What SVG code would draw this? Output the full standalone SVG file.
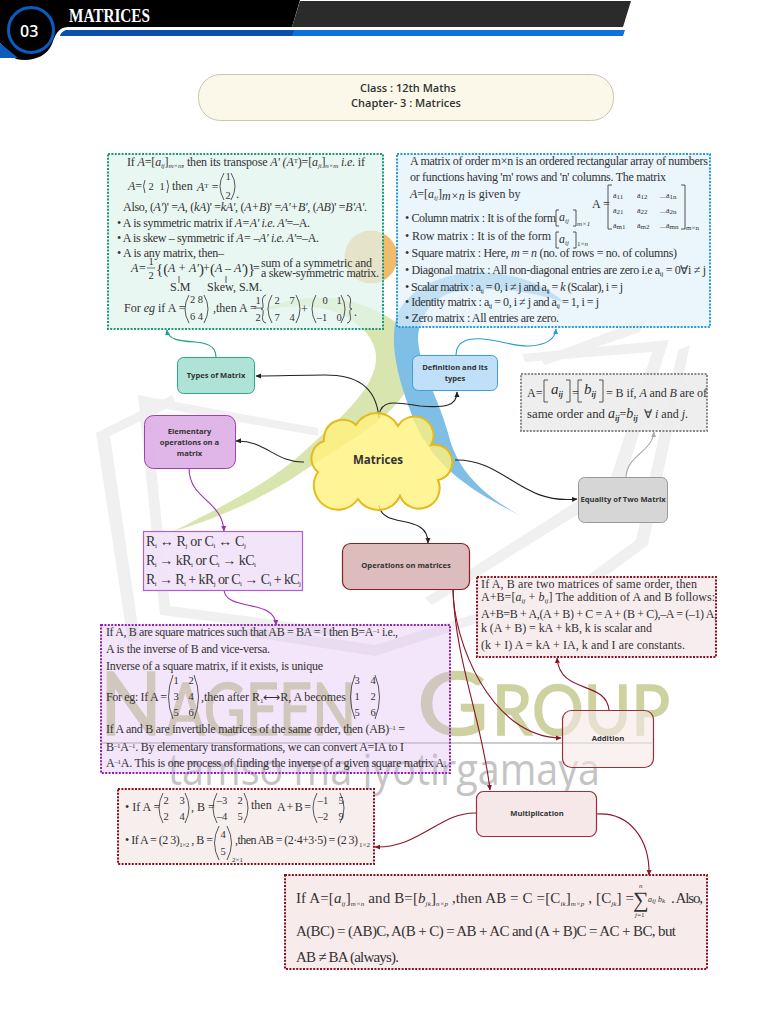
<svg xmlns="http://www.w3.org/2000/svg" width="768" height="1024" viewBox="0 0 768 1024">
<defs>
<marker id="ak" markerWidth="6" markerHeight="6" refX="5" refY="3" orient="auto" markerUnits="userSpaceOnUse"><path d="M0,0.5 L5.5,3 L0,5.5z" fill="#222"/></marker>
<marker id="ag" markerWidth="6" markerHeight="6" refX="5" refY="3" orient="auto" markerUnits="userSpaceOnUse"><path d="M0,0.5 L5.5,3 L0,5.5z" fill="#aaa"/></marker>
<marker id="at" markerWidth="6" markerHeight="6" refX="5" refY="3" orient="auto" markerUnits="userSpaceOnUse"><path d="M0,0.5 L5.5,3 L0,5.5z" fill="#1f9f86"/></marker>
<marker id="ab" markerWidth="6" markerHeight="6" refX="5" refY="3" orient="auto" markerUnits="userSpaceOnUse"><path d="M0,0.5 L5.5,3 L0,5.5z" fill="#2a9ad8"/></marker>
<marker id="ap" markerWidth="6" markerHeight="6" refX="5" refY="3" orient="auto" markerUnits="userSpaceOnUse"><path d="M0,0.5 L5.5,3 L0,5.5z" fill="#9a30b0"/></marker>
<marker id="ar" markerWidth="6" markerHeight="6" refX="5" refY="3" orient="auto" markerUnits="userSpaceOnUse"><path d="M0,0.5 L5.5,3 L0,5.5z" fill="#8a1525"/></marker>
</defs>
<style>
text{font-family:"Liberation Serif",serif;fill:#333;font-size:12px}
.n{font-family:"Open Sans","Noto Sans",sans-serif;font-weight:700;font-size:7.6px;fill:#333;text-anchor:middle}
.i{font-style:italic}
.s{font-size:7px}
.m{font-size:10.5px;text-anchor:middle}
.br{fill:none;stroke:#444;stroke-width:.9}
.c{fill:none;stroke-width:1.1}
.dot{stroke-width:2;stroke-dasharray:2 1.4}
.wm{font-family:Lato,"Liberation Sans",sans-serif;fill:#cdd2a0;stroke:#cdd2a0;stroke-width:1.6}
</style>
<rect width="768" height="1024" fill="#fff"/>
<g id="background">
<g fill="#f0f0f0">
<path d="M96,433 L172,395 L176,404 L110,436 L140,640 L128,642Z"/>
<path d="M138,395 L318,428 L318,436 L150,406 L170,606 L335,628 L335,636 L160,615Z"/>
<path d="M669,340 L622,487 L432,605 L425,598 L610,480 L652,352 L525,362 L522,354Z"/>
<path d="M622,327 L645,320 L640,332 L545,365 L540,358Z"/>
<path d="M240,625 L375,645 L520,600 L525,608 L375,656 L240,635Z"/>
<path d="M690,345 L648,545 L560,610 L552,602 L636,540 L678,350Z"/>
</g>
<path d="M258,313 C280,298 330,290 370,308 C405,322 422,345 412,378 C400,415 350,440 305,470 C270,495 215,520 174,531 C225,505 270,482 300,455 C345,415 378,385 376,355 C374,330 345,312 320,308 C300,304 275,307 258,313Z" fill="#d9e5ae"/>
<path d="M525,518 C480,495 430,470 410,410 C395,370 390,340 397,315 C410,285 450,270 490,273 C520,275 545,285 565,303 C530,290 480,285 450,293 C430,300 418,320 418,340 C420,370 440,400 450,440 C460,475 490,500 525,518Z" fill="#7fbfe6"/>
<circle cx="371" cy="257" r="26.500" fill="#f0bc6c"/>
<text class="wm" x="100" y="735" style="font-size:88px" textLength="62" lengthAdjust="spacingAndGlyphs">N</text>
<text class="wm" x="166" y="735" style="font-size:72px" textLength="190" lengthAdjust="spacingAndGlyphs">AGEEN</text>
<text class="wm" x="417" y="735" style="font-size:88px" textLength="72" lengthAdjust="spacingAndGlyphs">G</text>
<text class="wm" x="492" y="735" style="font-size:70px" textLength="178" lengthAdjust="spacingAndGlyphs">ROUP</text>
<path d="M101,743 H652" stroke="#bdbdbd" stroke-width="1.4"/>
<text x="168" y="785" textLength="432" lengthAdjust="spacingAndGlyphs" style="fill:#c4c4c4;font-size:43px;font-family:'Open Sans',sans-serif;font-weight:400">tamso ma jyotirgamaya</text>
</g>
<g id="header">
<path d="M0,0 H300 L292,27 H68 C58,27 55,36 52,44 C46,58 30,62 16,59 L0,43Z" fill="#000"/>
<path d="M300,1 H631 L623,27 H292Z" fill="#2b2b2b"/>
<path d="M66,30 H625 L623,36 H60 Q61,32 66,30Z" fill="#0e72dc"/>
<path d="M66,30 H294 L292,36 H60 Q61,32 66,30Z" fill="#0a4fa8"/>
<path d="M0,43 L18,58 H0Z" fill="#0a5cc0"/>
<circle cx="31" cy="30" r="22.500" fill="#000" stroke="#0b5cc0" stroke-width="3"/>
<text x="20" y="37" style="fill:#fff;font-family:'Open Sans',sans-serif;font-size:16px;font-weight:600">03</text>
<text x="69" y="22" textLength="81" lengthAdjust="spacingAndGlyphs" style="fill:#fff;font-weight:700;font-size:19px">MATRICES</text>
</g>
<g id="connectors">
<path class="c" stroke="#222" marker-end="url(#ak)" d="M379,418 C376,385 355,375 325,375 C300,375 280,376 256,376"/>
<path class="c" stroke="#222" marker-end="url(#ak)" d="M379,415 C382,398 398,403 420,406 C445,408 457,406 457,392"/>
<path class="c" stroke="#222" marker-end="url(#ak)" d="M304,462 C276,463 265,440 236,441"/>
<path class="c" stroke="#222" marker-end="url(#ak)" d="M455,460 C505,459 520,505 577,499"/>
<path class="c" stroke="#222" marker-end="url(#ak)" d="M379,505 C382,530 428,512 428,543"/>
<path class="c" stroke="#1f9f86" marker-end="url(#at)" d="M216,357 C216,345 205,343 195,342 C180,341 168,340 167,330"/>
<path class="c" stroke="#2a9ad8" marker-end="url(#ab)" d="M456,355 C456,340 470,338 483,339 C500,340 515,347 530,346 C545,345 555,340 556,329"/>
<path class="c" stroke="#aaa" marker-end="url(#ag)" d="M626,477 C627,455 652,452 654,432"/>
<path class="c" stroke="#9a30b0" marker-end="url(#ap)" d="M189,469 C190,500 222,500 224,531"/>
<path class="c" stroke="#9a30b0" marker-end="url(#ap)" d="M224,590 C226,612 275,598 276,625"/>
<path class="c" stroke="#8a1525" stroke-width="1.6" marker-end="url(#ar)" d="M453,589 C453,640 490,737 561,738"/>
<path class="c" stroke="#8a1525" stroke-width="1.6" marker-end="url(#ar)" d="M453,589 C455,660 482,720 490,790"/>
<path class="c" stroke="#8a1525" marker-end="url(#ar)" d="M609,710 C606,680 560,695 557,658"/>
<path class="c" stroke="#8a1525" marker-end="url(#ar)" d="M476,813 C440,812 420,848 375,847"/>
<path class="c" stroke="#8a1525" marker-end="url(#ar)" d="M597,814 C630,812 650,840 649,875"/>
</g>
<g id="title-pill">
<rect x="198.500" y="74.500" width="415" height="46" rx="22" fill="#fbf8e9" stroke="#c9c6ae"/>
<text class="n" x="408" y="92" style="font-size:11px;font-weight:600">Class : 12th Maths</text>
<text class="n" x="406" y="107" style="font-size:11px;font-weight:600">Chapter- 3 : Matrices</text>
</g>
<g id="transpose-box">
<rect x="108" y="154" width="275" height="175" fill="#e0f4ee" fill-opacity=".72" stroke="#1a9a7a" class="dot"/>
<text x="127" y="166" textLength="238">If <tspan class="i">A</tspan>=[<tspan class="i">a</tspan><tspan class="i s" dy="2">ij</tspan><tspan dy="-2">]</tspan><tspan class="i s" dy="2">m×n</tspan><tspan dy="-2">, then its transpose </tspan><tspan class="i">A' (A</tspan><tspan class="s" dy="-3">T</tspan><tspan dy="3">)=[</tspan><tspan class="i">a</tspan><tspan class="i s" dy="2">ji</tspan><tspan dy="-2">]</tspan><tspan class="i s" dy="2">n×m</tspan><tspan class="i" dy="-2"> i.e.</tspan> if</text>
<text x="128" y="190"><tspan class="i">A</tspan>=</text>
<path class="br" d="M145,180 Q142,186 145,193 M167,180 Q170,186 167,193"/>
<text class="m" x="151" y="190">2</text><text class="m" x="162" y="190">1</text>
<text x="172" y="190">then</text>
<text x="197" y="191"><tspan class="i">A</tspan><tspan class="s" dy="-3">T</tspan><tspan dy="3"> =</tspan></text>
<path class="br" d="M224,173 Q216,186 224,200 M231,173 Q239,186 231,200"/>
<text class="m" x="228" y="180">1</text><text class="m" x="228" y="199">2</text><text x="236" y="198">.</text>
<text x="123" y="211" textLength="244">Also, (<tspan class="i">A'</tspan>)' =<tspan class="i">A</tspan>, (<tspan class="i">kA</tspan>)' =<tspan class="i">kA'</tspan>, (<tspan class="i">A+B</tspan>)' =<tspan class="i">A'+B'</tspan>, (<tspan class="i">AB</tspan>)' =<tspan class="i">B'A'</tspan>.</text>
<text x="117" y="227" textLength="193">• A is symmetric matrix if <tspan class="i">A=A' i.e. A'</tspan>=–A.</text>
<text x="117" y="242" textLength="202">• A is skew – symmetric if <tspan class="i">A= –A' i.e. A'</tspan>=–A.</text>
<text x="117" y="257" textLength="107">• A is any matrix, then–</text>
<text x="131" y="272" class="i">A</text><text x="139" y="272">=</text>
<text class="m" x="151" y="265">1</text><path d="M147,268 H155" stroke="#444" stroke-width=".7"/><text class="m" x="151" y="279">2</text>
<text x="156" y="274" style="font-size:15px">{(</text><text x="168" y="272" class="i">A + A'</text><text x="199" y="274" style="font-size:15px">)</text><text x="203" y="272">+</text><text x="210" y="274" style="font-size:15px">(</text><text x="215" y="272" class="i">A – A'</text><text x="243" y="274" style="font-size:15px">)}</text><text x="253" y="272">=</text>
<text x="261" y="267" textLength="111">sum of a symmetric and</text>
<text x="261" y="277" textLength="118">a skew-symmetric matrix.</text>
<path d="M179,276 V283 M226,276 V283" stroke="#333" stroke-width=".8"/>
<text x="170" y="291">S.M</text><text x="207" y="291">Skew, S.M.</text>
<text x="124" y="312">For <tspan class="i">eg</tspan> if  A =</text>
<path class="br" d="M189,295 Q181,309 189,323 M204,295 Q212,309 204,323"/>
<text class="m" x="196.500" y="303">2 8</text><text class="m" x="196.500" y="320">6 4</text>
<text x="213" y="312">,then  A =</text>
<text class="m" x="258" y="304">1</text><path d="M254,308 H262" stroke="#444" stroke-width=".7"/><text class="m" x="258" y="321">2</text>
<path class="br" d="M266,295 Q261,296 263,305 Q264,309 261,309 Q264,309 263,314 Q261,322 266,323 M347,295 Q352,296 350,305 Q349,309 352,309 Q349,309 350,314 Q352,322 347,323"/>
<path class="br" d="M272,295 Q264,309 272,323 M296,295 Q304,309 296,323 M316,295 Q308,309 316,323 M341,295 Q349,309 341,323"/>
<text class="m" x="277" y="304">2</text><text class="m" x="292" y="304">7</text><text class="m" x="277" y="321">7</text><text class="m" x="292" y="321">4</text>
<text x="301" y="313">+</text>
<text class="m" x="325" y="304">0</text><text class="m" x="339" y="304">1</text><text class="m" x="322" y="321">–1</text><text class="m" x="339" y="321">0</text>
<text x="354" y="316">.</text>
</g>
<g id="definition-box">
<rect x="397" y="154" width="313" height="173" fill="#e0f0fb" fill-opacity=".68" stroke="#2a9ad8" class="dot"/>
<text x="410" y="165" textLength="298">A matrix of order m×n is an ordered rectangular array of numbers</text>
<text x="410" y="181" textLength="256">or functions having 'm' rows and 'n' columns. The matrix</text>
<text x="410" y="198"><tspan class="i">A</tspan>=[<tspan class="i">a</tspan><tspan class="i s" dy="2">ij</tspan><tspan dy="-2">]</tspan><tspan class="i" dy="2">m×n</tspan><tspan dy="-2"> is given by</tspan></text>
<text x="592" y="208">A =</text>
<path class="br" d="M612,185 H608 V229 H612 M681,185 H685 V229 H681"/>
<g style="fill:#555"><text x="613" y="198" style="font-size:8px">a<tspan class="s" dy="1">11</tspan></text><text x="637" y="198" style="font-size:8px">a<tspan class="s" dy="1">12</tspan></text><text x="660" y="198" style="font-size:8px">...a<tspan class="s" dy="1">1n</tspan></text>
<text x="613" y="213" style="font-size:8px">a<tspan class="s" dy="1">21</tspan></text><text x="637" y="213" style="font-size:8px">a<tspan class="s" dy="1">22</tspan></text><text x="660" y="213" style="font-size:8px">...a<tspan class="s" dy="1">2n</tspan></text>
<text x="613" y="228" style="font-size:8px">a<tspan class="s" dy="1">m1</tspan></text><text x="637" y="228" style="font-size:8px">a<tspan class="s" dy="1">m2</tspan></text><text x="660" y="228" style="font-size:8px">...a<tspan class="s" dy="1">mn</tspan></text></g>
<text x="686" y="230" class="s">m×n</text>
<text x="405" y="222" textLength="151">• Column matrix : It is of the form</text>
<path class="br" d="M559,210 H556 V226 H559 M573,210 H576 V226 H573 M559,232 H556 V248 H559 M573,232 H576 V248 H573"/>
<text x="559" y="221" class="i">a<tspan class="s" dy="2">ij</tspan></text><text x="577" y="226" class="i s">m×1</text>
<text x="405" y="240" textLength="146">• Row matrix : It is of the form</text>
<text x="559" y="243" class="i">a<tspan class="s" dy="2">ij</tspan></text><text x="577" y="246" class="s">1×<tspan class="i">n</tspan></text>
<text x="405" y="257" textLength="272">• Square matrix : Here, <tspan class="i">m</tspan> = <tspan class="i">n</tspan> (no. of rows = no. of columns)</text>
<text x="405" y="274" textLength="301">• Diagonal matrix : All non-diagonal entries are zero i.e  a<tspan class="s" dy="2">ij</tspan><tspan dy="-2"> = 0∀i ≠ j</tspan></text>
<text x="405" y="291" textLength="218">• Scalar matrix : a<tspan class="s" dy="2">ij</tspan><tspan dy="-2"> = 0, i ≠ j and a</tspan><tspan class="s" dy="2">ij</tspan><tspan dy="-2"> = </tspan><tspan class="i">k</tspan> (Scalar), i = j</text>
<text x="405" y="306" textLength="194">• Identity matrix : a<tspan class="s" dy="2">ij</tspan><tspan dy="-2"> = 0, i ≠ j and a</tspan><tspan class="s" dy="2">ij</tspan><tspan dy="-2"> = 1, i = j</tspan></text>
<text x="405" y="322" textLength="154">• Zero matrix : All entries are zero.</text>
</g>
<g id="types-node"><rect x="177.500" y="357.500" width="77" height="36" rx="6" fill="#aee3d6" stroke="#2aa88c"/><text class="n" x="216" y="378">Types of Matrix</text></g>
<g id="definition-node"><rect x="412.500" y="355.500" width="85" height="35" rx="6" fill="#bfe0f8" stroke="#3a9ee0"/><text class="n" x="455" y="370">Definition and its</text><text class="n" x="455" y="381">types</text></g>
<g id="equality-box">
<rect x="521" y="374" width="186" height="57" fill="#ececec" fill-opacity=".9" stroke="#888" class="dot"/>
<text x="527" y="397">A=</text>
<path class="br" d="M548,380 H544 V402 H548 M566,380 H570 V402 H566 M582,380 H578 V402 H582 M599,380 H603 V402 H599"/>
<text x="551" y="394" class="i" style="font-size:15px">a<tspan dy="3" style="font-size:8px;font-weight:700">ij</tspan></text>
<text x="572" y="397">=</text>
<text x="584" y="394" class="i" style="font-size:15px">b<tspan dy="3" style="font-size:8px;font-weight:700">ij</tspan></text>
<text x="606" y="397" textLength="101">= B if, <tspan class="i">A</tspan> and <tspan class="i">B</tspan> are of</text>
<text x="527" y="418" textLength="78" lengthAdjust="spacingAndGlyphs">same order and</text>
<text x="608" y="418" class="i" style="font-size:14px">a<tspan dy="3" style="font-size:8px;font-weight:700">ij</tspan><tspan dy="-3" style="font-style:normal;font-size:12px">=</tspan>b<tspan dy="3" style="font-size:8px;font-weight:700">ij</tspan></text>
<text x="644" y="418">∀  <tspan class="i">i</tspan> and <tspan class="i">j</tspan>.</text>
</g>
<g id="equality-node"><rect x="578.500" y="477.500" width="89" height="45" rx="6" fill="#d6d6d6" stroke="#999"/><text class="n" x="623" y="502">Equality of Two Matrix</text></g>
<g id="elementary-node"><rect x="144.500" y="415.500" width="91" height="53" rx="9" fill="#dcaee4" fill-opacity=".9" stroke="#a040b0"/><text class="n" x="189.500" y="434">Elementary</text><text class="n" x="189.500" y="445">operations on a</text><text class="n" x="189.500" y="456">matrix</text></g>
<g id="matrices-node">
<path d="M324,441 A19,19 0 0 1 356,425 A24,24 0 0 1 398,426 A19,19 0 0 1 431,445 A16,16 0 0 1 438,480 A20,20 0 0 1 400,496 A24,24 0 0 1 358,499 A20,20 0 0 1 318,472 A18,18 0 0 1 324,441Z" fill="#fff27c" fill-opacity=".8" stroke="#e6b91e" stroke-width="2"/>
<text class="n" x="378" y="464" style="font-size:11.5px">Matrices</text>
</g>
<g id="row-ops-box">
<rect x="143.500" y="531.500" width="159" height="59" fill="#f2e2f8" fill-opacity=".9" stroke="#b060d0" stroke-width="1.200"/>
<text x="146" y="546" textLength="100" style="font-size:14px">R<tspan class="s" dy="2">i</tspan><tspan dy="-2"> ↔ R</tspan><tspan class="s" dy="2">j</tspan><tspan dy="-2"> or C</tspan><tspan class="s" dy="2">i</tspan><tspan dy="-2"> ↔ C</tspan><tspan class="s" dy="2">j</tspan></text>
<text x="146" y="565" textLength="110" style="font-size:14px">R<tspan class="s" dy="2">i</tspan><tspan dy="-2"> → kR</tspan><tspan class="s" dy="2">i</tspan><tspan dy="-2"> or C</tspan><tspan class="s" dy="2">i</tspan><tspan dy="-2"> → kC</tspan><tspan class="s" dy="2">i</tspan></text>
<text x="146" y="584" textLength="155" style="font-size:14px">R<tspan class="s" dy="2">i</tspan><tspan dy="-2"> → R</tspan><tspan class="s" dy="2">i</tspan><tspan dy="-2"> + kR</tspan><tspan class="s" dy="2">j</tspan><tspan dy="-2"> or C</tspan><tspan class="s" dy="2">i</tspan><tspan dy="-2"> → C</tspan><tspan class="s" dy="2">i</tspan><tspan dy="-2"> + kC</tspan><tspan class="s" dy="2">j</tspan></text>
</g>
<g id="operations-node"><rect x="342.500" y="543.500" width="127" height="46" rx="8" fill="#dcbcbc" stroke="#8a2020" stroke-width="1.200"/><text class="n" x="406" y="568">Operations on matrices</text></g>
<g id="addition-box">
<rect x="477" y="577" width="239" height="80" fill="#f7ebec" fill-opacity=".9" stroke="#8a1020" class="dot"/>
<text x="481" y="588" textLength="216">If A, B are two matrices of same order, then</text>
<text x="481" y="601" textLength="234">A+B=[<tspan class="i">a</tspan><tspan class="i s" dy="2">ij</tspan><tspan dy="-2"> + </tspan><tspan class="i">b</tspan><tspan class="i s" dy="2">ij</tspan><tspan dy="-2">] The addition of A and B follows:</tspan></text>
<text x="481" y="618" textLength="236">A+B=B + A,(A + B) + C = A + (B + C),–A = (–1) A,</text>
<text x="481" y="632" textLength="171">k (A + B) = kA + kB, k is scalar and</text>
<text x="481" y="649" textLength="204">(k + I) A = kA + IA, k and I are constants.</text>
</g>
<g id="inverse-box">
<rect x="101" y="625" width="349" height="148" fill="#ddb5f1" fill-opacity=".35" stroke="#9020b0" class="dot"/>
<text x="106" y="636" textLength="292">If A, B are square matrices such that AB = BA = I then B=A<tspan class="s" dy="-3">–1</tspan><tspan dy="3"> i.e.,</tspan></text>
<text x="106" y="653" textLength="164">A is the inverse of B and vice-versa.</text>
<text x="106" y="670" textLength="217">Inverse of a square matrix, if it exists, is unique</text>
<text x="106" y="701" textLength="61">For eg: If  A =</text>
<path class="br" d="M173,675 Q164,697 173,719 M194,675 Q203,697 194,719 M355,675 Q346,697 355,719 M375,675 Q384,697 375,719"/>
<text class="m" x="176" y="684">1</text><text class="m" x="191" y="684">2</text><text class="m" x="176" y="700">3</text><text class="m" x="191" y="700">4</text><text class="m" x="176" y="716">5</text><text class="m" x="191" y="716">6</text>
<text x="201" y="701" textLength="145">,then after R<tspan class="s" dy="2">1</tspan><tspan dy="-2">⟷R, A   becomes</tspan></text>
<text class="m" x="357" y="684">3</text><text class="m" x="373" y="684">4</text><text class="m" x="357" y="700">1</text><text class="m" x="373" y="700">2</text><text class="m" x="357" y="716">5</text><text class="m" x="373" y="716">6</text>
<text x="106" y="733" textLength="299">If A and B are invertible matrices of the same order, then (AB)<tspan class="s" dy="-3">–1</tspan><tspan dy="3"> =</tspan></text>
<text x="106" y="751" textLength="298">B<tspan class="s" dy="-3">–1</tspan><tspan dy="3">A</tspan><tspan class="s" dy="-3">–1</tspan><tspan dy="3">. By elementary transformations, we can convert A=IA to I</tspan></text>
<text x="106" y="767" textLength="341">A<tspan class="s" dy="-3">–1</tspan><tspan dy="3">A. This is one process of finding the inverse of a given square matrix A.</tspan></text>
</g>
<g id="addition-node"><rect x="562.500" y="710.500" width="91" height="57" rx="9" fill="#f6e8e8" fill-opacity=".6" stroke="#9a3040" stroke-width="1.200"/><text class="n" x="608" y="741">Addition</text></g>
<g id="multiplication-node"><rect x="476.500" y="791.500" width="120" height="45" rx="7" fill="#f6e8e8" stroke="#9a3040" stroke-width="1.200"/><text class="n" x="537" y="816">Multiplication</text></g>
<g id="example-box">
<rect x="118" y="789" width="256" height="75" fill="#f7eeee" stroke="#8a1020" class="dot"/>
<text x="125" y="811">• If A =</text>
<path class="br" d="M163,793 Q155,808 163,823 M185,793 Q193,808 185,823 M217,793 Q209,808 217,823 M244,793 Q252,808 244,823 M317,793 Q309,808 317,823 M340,793 Q348,808 340,823 M219,826 Q210,843 219,860 M227,826 Q236,843 227,860"/>
<text class="m" x="166" y="804">2</text><text class="m" x="182" y="804">3</text><text class="m" x="166" y="820">2</text><text class="m" x="182" y="820">4</text>
<text x="191" y="811">, B =</text>
<text class="m" x="222" y="804">–3</text><text class="m" x="240" y="804">2</text><text class="m" x="222" y="820">–4</text><text class="m" x="240" y="820">5</text>
<text x="251" y="809">then</text><text x="277" y="811" textLength="34">A + B =</text>
<text class="m" x="323" y="804">–1</text><text class="m" x="341" y="804">5</text><text class="m" x="323" y="820">–2</text><text class="m" x="341" y="820">9</text>
<text x="125" y="844" textLength="88">• If A = (2  3)<tspan class="s" dy="3">1×2</tspan><tspan dy="-3"> , B =</tspan></text>
<text class="m" x="223" y="838">4</text><text class="m" x="223" y="855">5</text><text x="232" y="862" class="s">2×1</text>
<text x="235" y="844" textLength="123">,then AB = (2·4+3·5) = (2  3)</text><text x="359" y="847" class="s">1×2</text>
</g>
<g id="product-box">
<rect x="285" y="875" width="422" height="94" fill="#f8ebec" stroke="#8a1020" class="dot"/>
<text x="296" y="903" textLength="338" style="font-size:15px">If A=[<tspan class="i">a</tspan><tspan class="i s" dy="3">ij</tspan><tspan dy="-3">]</tspan><tspan class="i s" dy="3">m×n</tspan><tspan dy="-3"> and B=[</tspan><tspan class="i">b</tspan><tspan class="i s" dy="3">jk</tspan><tspan dy="-3">]</tspan><tspan class="i s" dy="3">n×p</tspan><tspan dy="-3"> ,then AB = C =[C</tspan><tspan class="i s" dy="3">ik</tspan><tspan dy="-3">]</tspan><tspan class="i s" dy="3">m×p</tspan><tspan dy="-3"> , [C</tspan><tspan class="i s" dy="3">jk</tspan><tspan dy="-3">] =</tspan></text>
<text x="633" y="907" style="font-size:22px">∑</text><text x="639" y="888" class="s i">n</text><text x="635" y="917" class="s"><tspan class="i">j</tspan>=1</text>
<text x="648" y="902" class="i" style="font-size:8px">a<tspan class="s" dy="1">ij</tspan><tspan dy="-1"> b</tspan><tspan class="s" dy="1">k</tspan></text>
<text x="671" y="903" textLength="32" style="font-size:15px">. Also,</text>
<text x="296" y="936" textLength="380" style="font-size:15px">A(BC) = (AB)C, A(B + C) = AB + AC and (A + B)C = AC + BC, but</text>
<text x="296" y="962" textLength="103" style="font-size:15px">AB ≠ BA (always).</text>
</g>
</svg>
